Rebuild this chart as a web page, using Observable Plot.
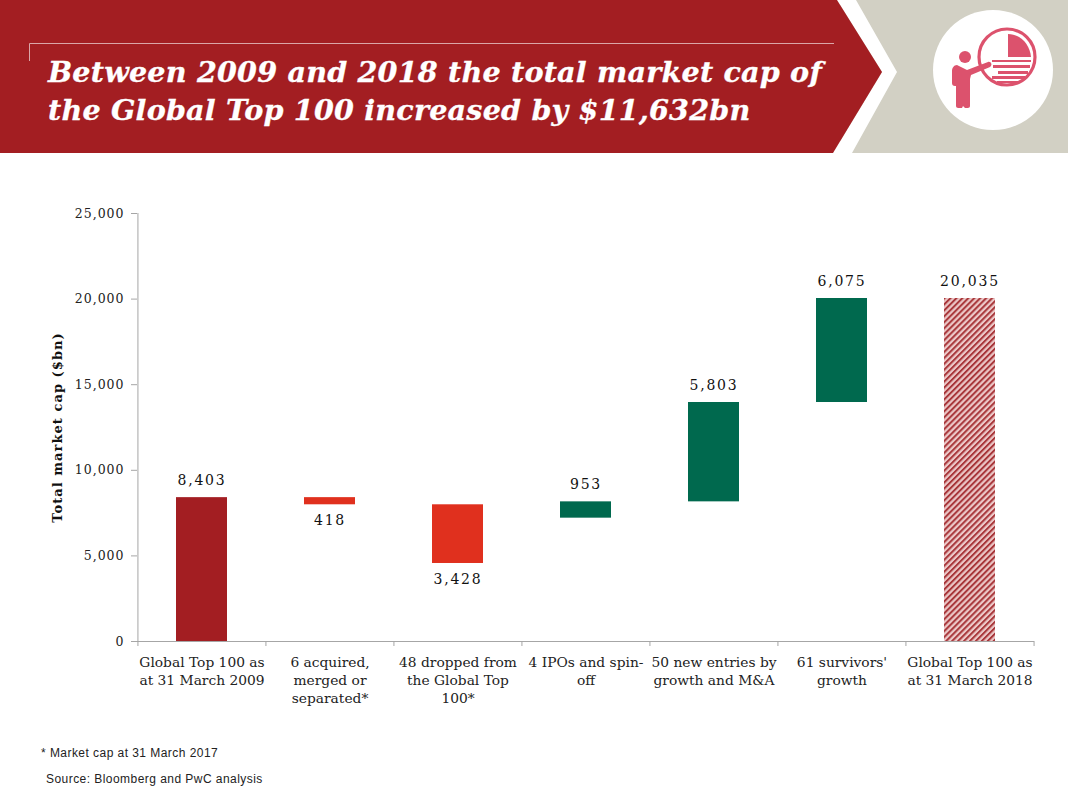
<!DOCTYPE html>
<html><head><meta charset="utf-8">
<script src="https://cdn.jsdelivr.net/npm/d3@7"></script>
<script src="https://cdn.jsdelivr.net/npm/@observablehq/plot@0.6"></script>
<style>
html,body{margin:0;padding:0;background:#fff;width:1068px;height:788px;overflow:hidden}
#head{position:relative;height:190px;width:1068px}
#head svg.bg{position:absolute;left:0;top:0}
#head h1{position:absolute;left:48px;top:53px;margin:0;color:#fff;font:italic bold 28.600px/38px "DejaVu Serif",serif;letter-spacing:.2px;white-space:nowrap;-webkit-text-stroke:.3px #fff}
#chart{height:530px}
#chart svg{display:block}
.value{letter-spacing:1.8px}
.ytitle{letter-spacing:1.05px}
[aria-label="y-axis tick label"]{letter-spacing:1px}
#foot{position:relative;height:68px;font:12px "Liberation Sans",sans-serif;color:#222;letter-spacing:.45px}
#foot div{position:absolute;white-space:nowrap}
</style></head><body>
<div id="head">
<svg class="bg" width="1068" height="153" viewBox="0 0 1068 153">
  <rect x="840" y="0" width="228" height="153" fill="#d2d0c4"/>
  <polygon points="837,0 856,0 897,72 852,153 833,153 882,72" fill="#fff"/>
  <polygon points="0,0 837,0 882,72 833,153 0,153" fill="#a31e22"/>
  <path d="M29.500 61V43.500H834" fill="none" stroke="#dba6a8" stroke-width="1"/>
  <circle cx="993" cy="70" r="60" fill="#fff"/>
  <g fill="#dc526d">
    <circle cx="965" cy="57" r="6"/>
    <path d="M957 65l6 3 4 2 21-8c3-1 5 3 2 5l-19 8-1 4v27c0 2-2 2-4 2h-1l-2-2-1 2h-2c-2 0-4 0-4-2V86h-1c-2 0-3-1-3-3V71c0-3 2-6 5-6z"/>
    <path d="M1008 34v23h23c-1-12-10-23-23-23z"/>
    <path d="M992 60h39v2h-39zM993 65h37v3h-37zM998 71h30v3h-30zM992 76h33v3h-33zM997 81h24v2h-24zM1003 84h12v1h-12z"/>
  </g>
  <circle cx="1007" cy="57" r="28" fill="none" stroke="#dc526d" stroke-width="3.200"/>
</svg>
<h1>Between 2009 and 2018 the total market cap of<br>the Global Top 100 increased by $11,632bn</h1>
</div>
<div id="chart"></div>
<div id="foot">
  <div style="left:41px;top:26px">* Market cap at 31 March 2017</div>
  <div style="left:46px;top:52px">Source: Bloomberg and PwC analysis</div>
</div>
<script>
const categories = [
  "Global Top 100 as\nat 31 March 2009",
  "6 acquired,\nmerged or\nseparated*",
  "48 dropped from\nthe Global Top\n100*",
  "4 IPOs and spin-\noff",
  "50 new entries by\ngrowth and M&A",
  "61 survivors'\ngrowth",
  "Global Top 100 as\nat 31 March 2018"
];
const barStart = [0, 8403, 7985, 7204, 8157, 13960, 0];
const barEnd = [8403, 7985, 4557, 8157, 13960, 20035, 20035];
const labels = ["8,403", "418", "3,428", "953", "5,803", "6,075", "20,035"];
const kinds = ["total", "fall", "fall", "rise", "rise", "rise", "final"];
const yTicks = [0, 5000, 10000, 15000, 20000, 25000];
const yTitle = "Total market cap ($bn)";

const rows = categories.map((c, i) => ({
  c, y1: barStart[i], y2: barEnd[i], label: labels[i], kind: kinds[i],
  top: Math.max(barStart[i], barEnd[i]), bottom: Math.min(barStart[i], barEnd[i])
}));
const above = rows.filter(d => d.kind !== "fall");
const below = rows.filter(d => d.kind === "fall");
const step = 897 / 7;
const axisGray = "#a6a6a6";

const plot = Plot.plot({
  width: 1068, height: 530,
  marginLeft: 137, marginRight: 34, marginTop: 23, marginBottom: 79,
  style: {fontFamily: '"DejaVu Serif", serif', fontSize: "12.500px", color: "#222", background: "#fff"},
  x: {domain: categories, paddingInner: 0.6, paddingOuter: 0.3, label: null},
  y: {domain: [0, 25000], label: null},
  color: {type: "ordinal", domain: ["total", "fall", "rise", "final"],
          range: ["#a31e22", "#e0301e", "#00694e", "url(#hatch)"]},
  marks: [
    Plot.axisY({ticks: yTicks, tickSize: 6, tickPadding: 7, stroke: axisGray, label: null,
      tickFormat: d3.format(","), fill: "#222", fontSize: 12.5}),
    Plot.axisX({tickSize: 0, tickPadding: 12, label: null, lineHeight: 1.33, fontSize: 13.8, fill: "#222"}),
    Plot.barY(rows, {x: "c", y1: "y1", y2: "y2", fill: "kind"}),
    Plot.ruleY([0], {stroke: axisGray}),
    Plot.ruleX([categories[0]], {x: d => d, y1: 0, y2: 25000, dx: -step / 2, stroke: axisGray}),
    Plot.ruleX(categories, {x: d => d, y1: 0, y2: 0, insetBottom: -5, dx: -step / 2, stroke: axisGray}),
    Plot.ruleX([categories[6]], {x: d => d, y1: 0, y2: 0, insetBottom: -5, dx: step / 2, stroke: axisGray}),
    Plot.text(above, {x: "c", y: "top", text: "label", dy: -17, fontSize: 14, fill: "#111", className: "value"}),
    Plot.text(below, {x: "c", y: "bottom", text: "label", dy: 16, fontSize: 14, fill: "#111", className: "value"}),
    Plot.text([yTitle], {frameAnchor: "left", textAnchor: "middle", rotate: -90, dx: -80, fontSize: 13, fontWeight: "bold", fill: "#111", className: "ytitle"})
  ]
});
const defs = d3.create("svg:defs");
const pat = defs.append("pattern").attr("id", "hatch").attr("patternUnits", "userSpaceOnUse")
  .attr("width", 4.2).attr("height", 4.2).attr("patternTransform", "rotate(45)");
pat.append("rect").attr("width", 4.2).attr("height", 4.2).attr("fill", "#ecc8c8");
pat.append("rect").attr("width", 2).attr("height", 4.2).attr("fill", "#a8363a");
plot.insertBefore(defs.node(), plot.firstChild);
document.getElementById("chart").appendChild(plot);
</script>
</body></html>
